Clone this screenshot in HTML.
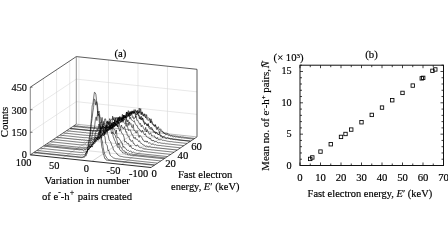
<!DOCTYPE html>
<html><head><meta charset="utf-8"><title>Figure</title>
<style>
html,body{margin:0;padding:0;background:#fff;}
body{width:448px;height:252px;overflow:hidden;}
svg{display:block;}
svg text{font-family:"Liberation Serif","Times New Roman",serif;fill:#000;stroke:#000;stroke-width:0.17px;}
</style></head><body>
<svg width="448" height="252" viewBox="0 0 448 252">
<rect width="448" height="252" fill="#fff"/>
<line x1="78.96" y1="124.48" x2="78.96" y2="56.88" stroke="#d4d4d4" stroke-width="0.55" />
<line x1="108.47" y1="127.58" x2="108.47" y2="59.98" stroke="#d4d4d4" stroke-width="0.55" />
<line x1="137.98" y1="130.69" x2="137.98" y2="63.09" stroke="#d4d4d4" stroke-width="0.55" />
<line x1="167.49" y1="133.79" x2="167.49" y2="66.19" stroke="#d4d4d4" stroke-width="0.55" />
<line x1="76.30" y1="101.67" x2="197.00" y2="114.37" stroke="#d4d4d4" stroke-width="0.55" />
<line x1="76.30" y1="79.13" x2="197.00" y2="91.83" stroke="#d4d4d4" stroke-width="0.55" />
<line x1="43.44" y1="146.06" x2="43.44" y2="78.46" stroke="#d4d4d4" stroke-width="0.55" />
<line x1="56.59" y1="137.31" x2="56.59" y2="69.71" stroke="#d4d4d4" stroke-width="0.55" />
<line x1="69.73" y1="128.57" x2="69.73" y2="60.97" stroke="#d4d4d4" stroke-width="0.55" />
<line x1="30.30" y1="132.27" x2="76.30" y2="101.67" stroke="#d4d4d4" stroke-width="0.55" />
<line x1="30.30" y1="109.73" x2="76.30" y2="79.13" stroke="#d4d4d4" stroke-width="0.55" />
<line x1="32.96" y1="155.08" x2="78.96" y2="124.48" stroke="#b0b0b0" stroke-width="0.55" />
<line x1="62.47" y1="158.18" x2="108.47" y2="127.58" stroke="#b0b0b0" stroke-width="0.55" />
<line x1="91.98" y1="161.29" x2="137.98" y2="130.69" stroke="#b0b0b0" stroke-width="0.55" />
<line x1="121.49" y1="164.39" x2="167.49" y2="133.79" stroke="#b0b0b0" stroke-width="0.55" />
<line x1="43.44" y1="146.06" x2="164.14" y2="158.76" stroke="#c4c4c4" stroke-width="0.55" />
<line x1="56.59" y1="137.31" x2="177.29" y2="150.01" stroke="#c4c4c4" stroke-width="0.55" />
<line x1="69.73" y1="128.57" x2="190.43" y2="141.27" stroke="#c4c4c4" stroke-width="0.55" />
<line x1="30.30" y1="154.80" x2="151.00" y2="167.50" stroke="#222" stroke-width="0.95" />
<line x1="151.00" y1="167.50" x2="197.00" y2="136.90" stroke="#333" stroke-width="0.8" />
<line x1="30.30" y1="154.80" x2="30.30" y2="87.20" stroke="#555" stroke-width="0.7" />
<line x1="30.30" y1="87.20" x2="76.30" y2="56.60" stroke="#333" stroke-width="0.8" />
<line x1="76.30" y1="56.60" x2="197.00" y2="69.30" stroke="#333" stroke-width="0.8" />
<line x1="197.00" y1="69.30" x2="197.00" y2="136.90" stroke="#333" stroke-width="0.8" />
<line x1="76.30" y1="124.20" x2="76.30" y2="56.60" stroke="#666" stroke-width="0.7" />
<line x1="30.30" y1="154.80" x2="76.30" y2="124.20" stroke="#333" stroke-width="0.75" />
<line x1="76.30" y1="124.20" x2="197.00" y2="136.90" stroke="#888" stroke-width="0.6" />
<line x1="30.30" y1="154.80" x2="32.50" y2="154.80" stroke="#333" stroke-width="0.7" />
<line x1="30.30" y1="132.27" x2="32.50" y2="132.27" stroke="#333" stroke-width="0.7" />
<line x1="30.30" y1="109.73" x2="32.50" y2="109.73" stroke="#333" stroke-width="0.7" />
<line x1="30.30" y1="87.20" x2="32.50" y2="87.20" stroke="#333" stroke-width="0.7" />
<polyline fill="none" stroke="#000" stroke-width="0.55" stroke-linejoin="round" points="74.30,125.76 75.03,125.83 75.77,125.91 76.51,125.98 77.25,126.07 77.98,126.15 78.72,126.22 79.46,126.29 80.20,126.33 80.94,126.44 81.67,126.54 82.41,126.58 83.15,126.69 83.89,126.77 84.62,126.73 85.36,126.90 86.10,126.95 86.84,127.03 87.58,127.02 88.31,127.19 89.05,127.18 89.79,127.39 90.53,127.47 91.26,127.34 92.00,127.38 92.74,127.54 93.48,127.63 94.22,127.70 94.95,127.88 95.69,127.56 96.43,127.74 97.17,127.80 97.90,127.85 98.64,127.71 99.38,127.85 100.12,127.78 100.86,128.32 101.59,127.81 102.33,127.20 103.07,128.10 103.81,127.91 104.54,127.42 105.28,127.29 106.02,127.32 106.76,128.31 107.49,127.08 108.23,127.86 108.97,127.50 109.71,126.45 110.45,126.77 111.18,125.74 111.92,123.68 112.66,125.11 113.40,124.78 114.13,125.78 114.87,125.19 115.61,125.19 116.35,124.26 117.09,124.38 117.82,123.46 118.56,122.46 119.30,122.83 120.04,122.80 120.77,122.20 121.51,119.35 122.25,119.23 122.99,117.30 123.73,116.61 124.46,117.93 125.20,115.84 125.94,118.37 126.68,112.11 127.41,113.15 128.15,114.81 128.89,115.82 129.63,112.81 130.37,116.10 131.10,113.87 131.84,110.88 132.58,111.71 133.32,112.42 134.05,109.66 134.79,113.01 135.53,110.56 136.27,111.91 137.01,112.55 137.74,110.29 138.48,113.03 139.22,108.07 139.96,112.77 140.69,108.55 141.43,114.35 142.17,111.83 142.91,115.43 143.65,116.18 144.38,114.22 145.12,113.99 145.86,117.84 146.60,114.57 147.33,118.42 148.07,117.71 148.81,118.10 149.55,118.57 150.29,122.78 151.02,118.75 151.76,121.02 152.50,123.11 153.24,124.62 153.97,126.16 154.71,126.43 155.45,124.91 156.19,126.61 156.93,128.12 157.66,128.11 158.40,126.67 159.14,129.12 159.88,129.91 160.61,128.77 161.35,130.08 162.09,130.91 162.83,131.86 163.57,132.94 164.30,133.04 165.04,132.95 165.78,133.14 166.52,133.14 167.25,133.37 167.99,133.84 168.73,134.12 169.47,134.92 170.21,135.60 170.94,135.13 171.68,135.48 172.42,135.55 173.16,135.59 173.89,136.04 174.63,136.13 175.37,136.00 176.11,136.08 176.85,136.38 177.58,136.27 178.32,136.52 179.06,136.77 179.80,136.70 180.53,136.54 181.27,136.99 182.01,136.86 182.75,136.94 183.49,137.03 184.22,137.33 184.96,137.19 185.70,137.44 186.44,137.55 187.17,137.63 187.91,137.66 188.65,137.77 189.39,137.87 190.13,137.89 190.86,138.03 191.60,138.10 192.34,138.15 193.08,138.24 193.81,138.31 194.55,138.41"/>
<polyline fill="none" stroke="#000" stroke-width="0.55" stroke-linejoin="round" points="73.31,126.41 74.05,126.49 74.78,126.56 75.52,126.65 76.26,126.73 77.00,126.80 77.74,126.88 78.47,126.96 79.21,127.04 79.95,127.12 80.69,127.17 81.42,127.27 82.16,127.33 82.90,127.43 83.64,127.50 84.38,127.58 85.11,127.64 85.85,127.74 86.59,127.74 87.33,127.87 88.06,127.93 88.80,128.01 89.54,128.01 90.28,128.19 91.02,128.09 91.75,128.22 92.49,128.31 93.23,128.38 93.97,128.36 94.70,128.33 95.44,128.37 96.18,128.51 96.92,128.43 97.66,128.61 98.39,128.35 99.13,128.68 99.87,129.21 100.61,128.26 101.34,128.61 102.08,129.03 102.82,128.64 103.56,128.86 104.30,127.52 105.03,128.10 105.77,128.99 106.51,127.80 107.25,128.15 107.98,126.62 108.72,128.20 109.46,128.80 110.20,127.01 110.94,127.03 111.67,126.79 112.41,127.87 113.15,125.40 113.89,123.87 114.62,126.72 115.36,123.34 116.10,124.58 116.84,121.00 117.58,122.48 118.31,122.62 119.05,120.51 119.79,120.58 120.53,121.37 121.26,119.06 122.00,120.05 122.74,121.21 123.48,115.18 124.22,117.96 124.95,117.74 125.69,115.69 126.43,118.06 127.17,117.20 127.90,115.30 128.64,114.84 129.38,113.38 130.12,111.15 130.86,113.49 131.59,111.48 132.33,110.99 133.07,113.74 133.81,111.24 134.54,113.23 135.28,109.59 136.02,110.70 136.76,111.57 137.50,114.15 138.23,111.75 138.97,113.60 139.71,111.33 140.45,113.18 141.18,114.84 141.92,112.34 142.66,113.26 143.40,116.08 144.14,113.80 144.87,116.88 145.61,117.60 146.35,117.65 147.09,119.75 147.82,120.03 148.56,120.39 149.30,118.77 150.04,119.66 150.78,122.88 151.51,121.22 152.25,124.15 152.99,124.40 153.73,124.57 154.46,126.00 155.20,124.40 155.94,127.47 156.68,129.60 157.42,127.75 158.15,130.00 158.89,130.47 159.63,133.27 160.37,130.45 161.10,131.12 161.84,131.63 162.58,131.97 163.32,131.94 164.06,133.45 164.79,133.23 165.53,134.52 166.27,134.60 167.01,134.19 167.74,134.79 168.48,135.78 169.22,135.30 169.96,135.73 170.70,136.14 171.43,135.90 172.17,136.33 172.91,136.81 173.65,136.81 174.38,136.24 175.12,137.13 175.86,136.88 176.60,136.93 177.34,137.05 178.07,137.44 178.81,137.42 179.55,137.46 180.29,137.47 181.02,137.74 181.76,137.83 182.50,137.75 183.24,137.84 183.98,137.99 184.71,138.14 185.45,138.16 186.19,138.27 186.93,138.31 187.66,138.45 188.40,138.51 189.14,138.60 189.88,138.68 190.62,138.75 191.35,138.83 192.09,138.91 192.83,138.98 193.57,139.07"/>
<polyline fill="none" stroke="#000" stroke-width="0.55" stroke-linejoin="round" points="70.35,128.38 71.09,128.45 71.83,128.53 72.57,128.62 73.30,128.69 74.04,128.77 74.78,128.84 75.52,128.93 76.25,129.00 76.99,129.08 77.73,129.16 78.47,129.23 79.21,129.31 79.94,129.39 80.68,129.47 81.42,129.55 82.16,129.61 82.89,129.70 83.63,129.76 84.37,129.78 85.11,129.90 85.85,130.01 86.58,130.07 87.32,130.14 88.06,130.24 88.80,130.32 89.53,130.40 90.27,130.25 91.01,130.45 91.75,130.37 92.49,130.60 93.22,130.59 93.96,130.68 94.70,130.59 95.44,130.53 96.17,130.68 96.91,130.92 97.65,130.97 98.39,130.25 99.13,130.81 99.86,130.79 100.60,130.10 101.34,130.15 102.08,130.27 102.81,130.59 103.55,129.13 104.29,129.94 105.03,129.67 105.77,129.89 106.50,130.46 107.24,130.21 107.98,128.77 108.72,128.46 109.45,128.60 110.19,129.02 110.93,128.90 111.67,127.52 112.41,128.15 113.14,125.37 113.88,124.55 114.62,122.13 115.36,123.63 116.09,124.71 116.83,124.45 117.57,127.10 118.31,122.86 119.05,121.65 119.78,119.39 120.52,119.18 121.26,118.51 122.00,118.37 122.73,117.01 123.47,115.10 124.21,118.48 124.95,116.93 125.69,117.94 126.42,112.35 127.16,112.39 127.90,112.89 128.64,115.95 129.37,113.21 130.11,113.70 130.85,112.95 131.59,113.32 132.33,111.99 133.06,113.68 133.80,111.50 134.54,112.79 135.28,113.99 136.01,113.97 136.75,114.93 137.49,113.15 138.23,115.56 138.97,115.13 139.70,116.92 140.44,119.40 141.18,116.10 141.92,120.05 142.65,118.01 143.39,119.23 144.13,123.22 144.87,122.93 145.61,123.10 146.34,124.35 147.08,125.65 147.82,123.88 148.56,125.99 149.29,126.02 150.03,127.80 150.77,127.70 151.51,129.62 152.25,129.54 152.98,129.61 153.72,130.82 154.46,131.92 155.20,133.05 155.93,132.52 156.67,132.92 157.41,133.89 158.15,134.72 158.89,134.24 159.62,133.42 160.36,135.59 161.10,135.57 161.84,135.89 162.57,137.69 163.31,136.63 164.05,137.26 164.79,136.62 165.53,137.51 166.26,137.90 167.00,137.89 167.74,137.95 168.48,138.33 169.21,138.34 169.95,138.80 170.69,138.66 171.43,138.58 172.17,138.48 172.90,138.85 173.64,139.04 174.38,139.02 175.12,139.15 175.85,139.19 176.59,139.36 177.33,139.59 178.07,139.64 178.81,139.74 179.54,139.81 180.28,139.91 181.02,140.03 181.76,140.11 182.49,140.18 183.23,140.26 183.97,140.33 184.71,140.41 185.45,140.49 186.18,140.55 186.92,140.62 187.66,140.72 188.40,140.77 189.13,140.85 189.87,140.96 190.61,141.02"/>
<polyline fill="none" stroke="#000" stroke-width="0.55" stroke-linejoin="round" points="70.02,128.60 70.76,128.68 71.50,128.76 72.24,128.83 72.97,128.91 73.71,128.98 74.45,129.07 75.19,129.13 75.93,129.22 76.66,129.30 77.40,129.36 78.14,129.44 78.88,129.53 79.61,129.61 80.35,129.69 81.09,129.76 81.83,129.79 82.57,129.92 83.30,129.97 84.04,130.03 84.78,130.10 85.52,130.18 86.25,130.17 86.99,130.31 87.73,130.34 88.47,130.43 89.21,130.36 89.94,130.70 90.68,130.51 91.42,130.76 92.16,130.82 92.89,130.99 93.63,131.09 94.37,130.98 95.11,131.09 95.85,130.85 96.58,131.35 97.32,130.59 98.06,130.90 98.80,131.04 99.53,131.17 100.27,131.17 101.01,131.27 101.75,130.97 102.49,130.64 103.22,130.61 103.96,131.12 104.70,130.37 105.44,130.56 106.17,129.72 106.91,128.35 107.65,128.87 108.39,129.24 109.13,129.94 109.86,129.47 110.60,129.37 111.34,126.82 112.08,127.75 112.81,126.46 113.55,126.65 114.29,125.35 115.03,123.29 115.77,125.07 116.50,124.05 117.24,124.01 117.98,121.18 118.72,123.03 119.45,122.54 120.19,122.26 120.93,121.66 121.67,118.20 122.41,114.27 123.14,119.16 123.88,115.43 124.62,115.95 125.36,117.64 126.09,115.75 126.83,115.20 127.57,115.58 128.31,110.59 129.05,117.08 129.78,112.75 130.52,112.65 131.26,114.19 132.00,112.82 132.73,111.52 133.47,112.94 134.21,112.63 134.95,112.38 135.69,117.60 136.42,111.68 137.16,110.73 137.90,113.55 138.64,114.08 139.37,118.85 140.11,117.31 140.85,119.15 141.59,119.50 142.33,117.78 143.06,121.37 143.80,121.13 144.54,124.60 145.28,122.84 146.01,123.32 146.75,125.25 147.49,126.08 148.23,123.54 148.97,128.26 149.70,128.81 150.44,129.25 151.18,127.75 151.92,127.57 152.65,130.15 153.39,131.84 154.13,132.17 154.87,131.43 155.61,133.70 156.34,132.31 157.08,132.90 157.82,134.39 158.56,134.44 159.29,134.81 160.03,134.73 160.77,136.62 161.51,135.72 162.25,136.84 162.98,137.29 163.72,137.15 164.46,137.52 165.20,138.04 165.93,138.43 166.67,138.37 167.41,137.80 168.15,137.85 168.89,138.39 169.62,138.42 170.36,138.95 171.10,138.98 171.84,139.03 172.57,139.38 173.31,139.46 174.05,139.40 174.79,139.55 175.53,139.70 176.26,139.66 177.00,139.82 177.74,139.79 178.48,139.97 179.21,140.08 179.95,140.13 180.69,140.23 181.43,140.32 182.17,140.40 182.90,140.44 183.64,140.52 184.38,140.58 185.12,140.71 185.85,140.79 186.59,140.87 187.33,140.94 188.07,141.02 188.81,141.10 189.54,141.17 190.28,141.25"/>
<polyline fill="none" stroke="#000" stroke-width="0.55" stroke-linejoin="round" points="66.74,130.79 67.48,130.87 68.21,130.94 68.95,131.02 69.69,131.09 70.43,131.18 71.16,131.25 71.90,131.33 72.64,131.40 73.38,131.49 74.12,131.56 74.85,131.64 75.59,131.69 76.33,131.78 77.07,131.87 77.80,131.95 78.54,132.01 79.28,132.09 80.02,132.12 80.76,132.20 81.49,132.34 82.23,132.41 82.97,132.50 83.71,132.54 84.44,132.61 85.18,132.49 85.92,132.75 86.66,132.88 87.40,132.96 88.13,132.94 88.87,133.12 89.61,133.19 90.35,133.18 91.08,133.11 91.82,133.24 92.56,133.42 93.30,133.10 94.04,133.42 94.77,133.43 95.51,133.68 96.25,133.52 96.99,133.05 97.72,133.79 98.46,133.19 99.20,132.79 99.94,133.15 100.68,132.76 101.41,133.29 102.15,131.85 102.89,131.73 103.63,132.00 104.36,133.04 105.10,132.33 105.84,130.56 106.58,129.59 107.32,130.30 108.05,129.03 108.79,130.21 109.53,129.34 110.27,128.63 111.00,127.62 111.74,129.15 112.48,125.76 113.22,124.60 113.96,126.93 114.69,126.55 115.43,123.62 116.17,124.26 116.91,125.99 117.64,120.69 118.38,120.91 119.12,121.16 119.86,116.37 120.60,118.81 121.33,119.62 122.07,117.59 122.81,118.97 123.55,117.99 124.28,115.52 125.02,116.78 125.76,116.26 126.50,112.15 127.24,113.41 127.97,113.39 128.71,113.84 129.45,113.96 130.19,112.29 130.92,115.20 131.66,112.06 132.40,117.52 133.14,116.68 133.88,119.18 134.61,117.89 135.35,117.01 136.09,116.10 136.83,120.43 137.56,120.08 138.30,121.48 139.04,122.90 139.78,124.43 140.52,123.38 141.25,126.90 141.99,125.10 142.73,126.12 143.47,127.91 144.20,129.21 144.94,130.48 145.68,127.36 146.42,131.95 147.16,129.48 147.89,131.31 148.63,133.03 149.37,134.46 150.11,133.05 150.84,133.12 151.58,135.97 152.32,135.97 153.06,135.48 153.80,136.49 154.53,135.86 155.27,137.93 156.01,137.64 156.75,138.98 157.48,137.56 158.22,139.27 158.96,140.17 159.70,139.50 160.44,139.73 161.17,139.22 161.91,140.20 162.65,140.28 163.39,140.28 164.12,140.19 164.86,140.76 165.60,140.66 166.34,140.91 167.08,141.18 167.81,141.23 168.55,141.35 169.29,141.58 170.03,141.40 170.76,141.73 171.50,141.62 172.24,141.75 172.98,141.93 173.72,142.04 174.45,142.11 175.19,142.15 175.93,142.22 176.67,142.33 177.40,142.38 178.14,142.51 178.88,142.57 179.62,142.67 180.36,142.72 181.09,142.81 181.83,142.90 182.57,142.95 183.31,143.04 184.04,143.13 184.78,143.21 185.52,143.29 186.26,143.35 187.00,143.42"/>
<polyline fill="none" stroke="#000" stroke-width="0.55" stroke-linejoin="round" points="63.45,132.97 64.19,133.05 64.93,133.13 65.67,133.20 66.40,133.28 67.14,133.36 67.88,133.44 68.62,133.51 69.35,133.59 70.09,133.67 70.83,133.74 71.57,133.82 72.31,133.90 73.04,133.96 73.78,134.05 74.52,134.14 75.26,134.20 75.99,134.29 76.73,134.34 77.47,134.41 78.21,134.53 78.95,134.60 79.68,134.66 80.42,134.75 81.16,134.84 81.90,134.86 82.63,134.99 83.37,135.07 84.11,135.14 84.85,135.20 85.59,135.21 86.32,135.38 87.06,135.29 87.80,135.44 88.54,135.56 89.27,135.69 90.01,135.77 90.75,135.52 91.49,135.82 92.23,135.61 92.96,135.36 93.70,135.33 94.44,135.13 95.18,135.67 95.91,135.91 96.65,135.04 97.39,135.22 98.13,134.72 98.87,135.09 99.60,134.29 100.34,134.25 101.08,134.06 101.82,133.91 102.55,133.66 103.29,133.43 104.03,133.05 104.77,132.00 105.51,132.81 106.24,130.28 106.98,131.44 107.72,129.76 108.46,130.25 109.19,129.78 109.93,126.46 110.67,128.49 111.41,128.99 112.15,127.56 112.88,126.27 113.62,122.01 114.36,123.95 115.10,122.06 115.83,124.22 116.57,121.35 117.31,120.07 118.05,117.46 118.79,120.94 119.52,118.09 120.26,118.03 121.00,119.85 121.74,117.63 122.47,117.70 123.21,121.18 123.95,115.60 124.69,115.58 125.43,117.35 126.16,119.08 126.90,113.98 127.64,116.47 128.38,115.41 129.11,115.11 129.85,119.11 130.59,117.27 131.33,119.78 132.07,120.16 132.80,120.95 133.54,121.61 134.28,120.63 135.02,123.15 135.75,124.50 136.49,125.61 137.23,125.63 137.97,128.37 138.71,128.74 139.44,129.05 140.18,130.64 140.92,130.96 141.66,132.43 142.39,130.26 143.13,131.92 143.87,133.69 144.61,134.96 145.35,133.55 146.08,136.00 146.82,137.00 147.56,137.27 148.30,137.84 149.03,137.57 149.77,139.07 150.51,138.18 151.25,140.42 151.99,139.89 152.72,141.13 153.46,140.06 154.20,141.36 154.94,141.50 155.67,141.36 156.41,141.50 157.15,142.50 157.89,142.43 158.63,142.87 159.36,142.62 160.10,142.82 160.84,143.00 161.58,143.19 162.31,143.24 163.05,143.41 163.79,143.32 164.53,143.31 165.27,143.69 166.00,143.70 166.74,143.82 167.48,143.83 168.22,144.00 168.95,144.05 169.69,144.15 170.43,144.17 171.17,144.29 171.91,144.38 172.64,144.44 173.38,144.54 174.12,144.62 174.86,144.68 175.59,144.76 176.33,144.85 177.07,144.91 177.81,144.99 178.55,145.08 179.28,145.16 180.02,145.22 180.76,145.30 181.50,145.39 182.23,145.47 182.97,145.55 183.71,145.63"/>
<polyline fill="none" stroke="#000" stroke-width="0.55" stroke-linejoin="round" points="60.17,135.16 60.90,135.24 61.64,135.31 62.38,135.39 63.12,135.47 63.86,135.55 64.59,135.63 65.33,135.70 66.07,135.78 66.81,135.86 67.54,135.93 68.28,136.01 69.02,136.08 69.76,136.17 70.50,136.24 71.23,136.32 71.97,136.40 72.71,136.48 73.45,136.56 74.18,136.63 74.92,136.69 75.66,136.79 76.40,136.87 77.14,136.95 77.87,137.02 78.61,137.07 79.35,137.18 80.09,137.26 80.82,137.30 81.56,137.37 82.30,137.48 83.04,137.57 83.78,137.64 84.51,137.66 85.25,137.58 85.99,137.88 86.73,137.60 87.46,137.73 88.20,137.98 88.94,137.78 89.68,138.26 90.42,138.34 91.15,138.31 91.89,138.08 92.63,138.03 93.37,138.06 94.10,137.78 94.84,138.59 95.58,137.41 96.32,138.15 97.06,137.65 97.79,137.34 98.53,137.57 99.27,137.48 100.01,136.99 100.74,135.96 101.48,135.11 102.22,134.66 102.96,135.51 103.70,134.84 104.43,134.44 105.17,132.46 105.91,134.45 106.65,130.16 107.38,131.39 108.12,131.01 108.86,128.80 109.60,127.02 110.34,127.08 111.07,125.18 111.81,125.63 112.55,123.08 113.29,122.16 114.02,123.46 114.76,120.11 115.50,121.48 116.24,120.90 116.98,122.04 117.71,120.35 118.45,117.93 119.19,121.33 119.93,117.39 120.66,117.71 121.40,117.70 122.14,122.33 122.88,118.45 123.62,117.21 124.35,120.12 125.09,118.90 125.83,123.91 126.57,118.86 127.30,121.91 128.04,119.90 128.78,125.43 129.52,121.89 130.26,124.36 130.99,123.59 131.73,127.35 132.47,127.84 133.21,124.53 133.94,130.12 134.68,130.92 135.42,131.31 136.16,133.25 136.90,131.41 137.63,131.77 138.37,135.54 139.11,137.48 139.85,135.22 140.58,136.12 141.32,137.18 142.06,137.62 142.80,140.01 143.54,140.02 144.27,141.46 145.01,141.93 145.75,140.80 146.49,142.27 147.22,140.99 147.96,142.58 148.70,143.26 149.44,142.90 150.18,142.78 150.91,143.58 151.65,144.41 152.39,144.08 153.13,143.98 153.86,144.68 154.60,144.90 155.34,144.63 156.08,144.96 156.82,145.31 157.55,145.29 158.29,145.45 159.03,145.41 159.77,145.53 160.50,145.52 161.24,145.67 161.98,145.87 162.72,145.88 163.46,145.94 164.19,146.06 164.93,146.11 165.67,146.26 166.41,146.34 167.14,146.37 167.88,146.49 168.62,146.57 169.36,146.62 170.10,146.73 170.83,146.80 171.57,146.88 172.31,146.96 173.05,147.04 173.78,147.11 174.52,147.19 175.26,147.27 176.00,147.34 176.73,147.42 177.47,147.50 178.21,147.58 178.95,147.66 179.69,147.74 180.42,147.81"/>
<polyline fill="none" stroke="#000" stroke-width="0.55" stroke-linejoin="round" points="56.88,137.35 57.62,137.42 58.36,137.50 59.09,137.58 59.83,137.66 60.57,137.73 61.31,137.81 62.05,137.89 62.78,137.97 63.52,138.04 64.26,138.12 65.00,138.20 65.73,138.27 66.47,138.35 67.21,138.43 67.95,138.51 68.69,138.59 69.42,138.67 70.16,138.74 70.90,138.82 71.64,138.90 72.37,138.96 73.11,139.05 73.85,139.13 74.59,139.21 75.33,139.24 76.06,139.34 76.80,139.37 77.54,139.48 78.28,139.52 79.01,139.67 79.75,139.69 80.49,139.62 81.23,139.91 81.97,139.84 82.70,139.84 83.44,140.02 84.18,140.03 84.92,140.00 85.65,140.32 86.39,140.19 87.13,140.46 87.87,140.46 88.61,140.47 89.34,140.36 90.08,140.26 90.82,140.13 91.56,140.71 92.29,139.39 93.03,139.56 93.77,139.58 94.51,139.93 95.25,139.60 95.98,139.01 96.72,138.79 97.46,139.87 98.20,137.84 98.93,135.71 99.67,139.03 100.41,136.12 101.15,136.08 101.89,135.93 102.62,133.70 103.36,135.74 104.10,133.47 104.84,131.05 105.57,132.25 106.31,131.68 107.05,130.04 107.79,129.92 108.53,125.99 109.26,128.81 110.00,125.05 110.74,127.63 111.48,123.52 112.21,124.00 112.95,127.66 113.69,122.32 114.43,123.65 115.17,121.94 115.90,117.70 116.64,122.42 117.38,122.07 118.12,117.06 118.85,119.61 119.59,116.92 120.33,119.51 121.07,122.17 121.81,121.02 122.54,119.10 123.28,120.31 124.02,122.81 124.76,123.54 125.49,124.72 126.23,126.48 126.97,123.19 127.71,127.51 128.45,130.42 129.18,130.43 129.92,129.70 130.66,130.95 131.40,133.16 132.13,134.92 132.87,135.03 133.61,138.10 134.35,138.53 135.08,137.05 135.82,139.29 136.56,139.24 137.30,139.23 138.04,140.51 138.77,141.71 139.51,140.70 140.25,142.41 140.99,143.63 141.72,143.41 142.46,144.05 143.20,145.11 143.94,144.97 144.68,145.39 145.41,146.40 146.15,145.91 146.89,146.17 147.63,146.41 148.36,146.93 149.10,146.72 149.84,146.79 150.58,146.90 151.32,147.27 152.05,147.07 152.79,147.44 153.53,147.43 154.27,147.34 155.00,147.67 155.74,147.74 156.48,147.69 157.22,147.90 157.96,147.97 158.69,148.02 159.43,148.07 160.17,148.21 160.91,148.29 161.64,148.37 162.38,148.45 163.12,148.52 163.86,148.60 164.60,148.67 165.33,148.76 166.07,148.83 166.81,148.91 167.55,148.99 168.28,149.07 169.02,149.13 169.76,149.22 170.50,149.30 171.24,149.38 171.97,149.46 172.71,149.53 173.45,149.61 174.19,149.69 174.92,149.77 175.66,149.84 176.40,149.92 177.14,150.00"/>
<polyline fill="none" stroke="#000" stroke-width="0.55" stroke-linejoin="round" points="53.60,139.53 54.33,139.61 55.07,139.69 55.81,139.76 56.55,139.84 57.28,139.92 58.02,140.00 58.76,140.07 59.50,140.15 60.24,140.23 60.97,140.31 61.71,140.38 62.45,140.46 63.19,140.54 63.92,140.62 64.66,140.70 65.40,140.77 66.14,140.85 66.88,140.92 67.61,141.00 68.35,141.08 69.09,141.16 69.83,141.24 70.56,141.30 71.30,141.39 72.04,141.47 72.78,141.54 73.52,141.61 74.25,141.69 74.99,141.77 75.73,141.86 76.47,141.94 77.20,142.00 77.94,142.09 78.68,142.17 79.42,142.25 80.16,142.32 80.89,142.40 81.63,142.48 82.37,142.56 83.11,142.51 83.84,142.52 84.58,142.30 85.32,142.87 86.06,142.81 86.79,142.48 87.53,142.73 88.27,142.75 89.01,142.08 89.75,142.66 90.48,142.90 91.22,142.88 91.96,142.03 92.70,141.84 93.43,142.50 94.17,142.06 94.91,140.80 95.65,140.37 96.39,140.81 97.12,139.33 97.86,138.78 98.60,140.29 99.34,138.27 100.07,136.78 100.81,137.04 101.55,138.03 102.29,134.96 103.03,132.67 103.76,130.49 104.50,134.68 105.24,126.67 105.98,131.17 106.71,126.85 107.45,125.28 108.19,124.62 108.93,125.03 109.67,126.43 110.40,122.38 111.14,124.07 111.88,126.83 112.62,116.14 113.35,119.74 114.09,117.27 114.83,122.42 115.57,117.75 116.31,117.63 117.04,117.97 117.78,121.44 118.52,124.24 119.26,122.93 119.99,127.48 120.73,127.37 121.47,125.06 122.21,128.02 122.95,127.68 123.68,128.75 124.42,126.67 125.16,128.98 125.90,132.30 126.63,131.72 127.37,135.74 128.11,136.29 128.85,135.85 129.59,139.57 130.32,139.45 131.06,141.53 131.80,140.94 132.54,140.38 133.27,143.39 134.01,143.28 134.75,144.83 135.49,145.58 136.23,146.13 136.96,144.93 137.70,144.95 138.44,146.43 139.18,147.38 139.91,147.07 140.65,147.79 141.39,147.63 142.13,148.05 142.87,148.27 143.60,148.38 144.34,148.84 145.08,148.94 145.82,149.23 146.55,149.20 147.29,149.39 148.03,149.37 148.77,149.55 149.51,149.54 150.24,149.60 150.98,149.78 151.72,149.86 152.46,149.93 153.19,149.95 153.93,150.00 154.67,150.12 155.41,150.24 156.15,150.27 156.88,150.40 157.62,150.44 158.36,150.55 159.10,150.63 159.83,150.67 160.57,150.77 161.31,150.86 162.05,150.94 162.79,151.02 163.52,151.10 164.26,151.18 165.00,151.25 165.74,151.33 166.47,151.41 167.21,151.48 167.95,151.56 168.69,151.64 169.43,151.72 170.16,151.80 170.90,151.87 171.64,151.95 172.38,152.03 173.11,152.11 173.85,152.18"/>
<polyline fill="none" stroke="#000" stroke-width="0.55" stroke-linejoin="round" points="50.31,141.72 51.05,141.79 51.78,141.87 52.52,141.95 53.26,142.03 54.00,142.10 54.74,142.18 55.47,142.26 56.21,142.34 56.95,142.42 57.69,142.49 58.42,142.57 59.16,142.65 59.90,142.73 60.64,142.80 61.38,142.88 62.11,142.96 62.85,143.04 63.59,143.11 64.33,143.19 65.06,143.27 65.80,143.35 66.54,143.42 67.28,143.50 68.02,143.58 68.75,143.66 69.49,143.74 70.23,143.81 70.97,143.87 71.70,143.97 72.44,144.05 73.18,144.12 73.92,144.20 74.66,144.28 75.39,144.35 76.13,144.42 76.87,144.50 77.61,144.59 78.34,144.65 79.08,144.74 79.82,144.82 80.56,144.81 81.30,144.82 82.03,144.83 82.77,145.06 83.51,144.87 84.25,144.83 84.98,144.82 85.72,144.72 86.46,145.07 87.20,145.04 87.94,144.64 88.67,145.33 89.41,144.59 90.15,144.74 90.89,144.46 91.62,144.97 92.36,144.22 93.10,143.30 93.84,142.19 94.58,141.53 95.31,141.77 96.05,141.20 96.79,141.08 97.53,139.02 98.26,138.81 99.00,136.83 99.74,134.31 100.48,135.43 101.22,136.30 101.95,134.28 102.69,134.01 103.43,132.45 104.17,127.17 104.90,127.73 105.64,129.62 106.38,124.67 107.12,122.50 107.86,124.60 108.59,124.42 109.33,123.12 110.07,121.38 110.81,120.32 111.54,119.04 112.28,118.96 113.02,119.19 113.76,119.19 114.50,121.10 115.23,126.07 115.97,124.15 116.71,124.25 117.45,126.63 118.18,125.44 118.92,128.98 119.66,131.25 120.40,128.65 121.14,131.36 121.87,133.48 122.61,133.85 123.35,135.08 124.09,137.42 124.82,142.21 125.56,141.14 126.30,141.99 127.04,143.57 127.78,143.34 128.51,143.36 129.25,145.68 129.99,146.92 130.73,145.25 131.46,147.62 132.20,148.62 132.94,148.22 133.68,148.56 134.42,149.48 135.15,149.16 135.89,149.97 136.63,150.35 137.37,150.21 138.10,150.26 138.84,150.80 139.58,150.74 140.32,150.97 141.06,150.61 141.79,151.30 142.53,151.13 143.27,151.42 144.01,151.52 144.74,151.54 145.48,151.63 146.22,151.70 146.96,151.85 147.70,151.96 148.43,152.04 149.17,152.09 149.91,152.17 150.65,152.24 151.38,152.34 152.12,152.41 152.86,152.48 153.60,152.58 154.34,152.66 155.07,152.74 155.81,152.82 156.55,152.89 157.29,152.97 158.02,153.05 158.76,153.13 159.50,153.20 160.24,153.28 160.98,153.36 161.71,153.44 162.45,153.52 163.19,153.59 163.93,153.67 164.66,153.75 165.40,153.83 166.14,153.90 166.88,153.98 167.62,154.06 168.35,154.14 169.09,154.21 169.83,154.29 170.57,154.37"/>
<polyline fill="none" stroke="#000" stroke-width="0.55" stroke-linejoin="round" points="47.02,143.90 47.76,143.98 48.50,144.06 49.24,144.14 49.97,144.21 50.71,144.29 51.45,144.37 52.19,144.45 52.93,144.52 53.66,144.60 54.40,144.68 55.14,144.76 55.88,144.83 56.61,144.91 57.35,144.99 58.09,145.07 58.83,145.14 59.57,145.22 60.30,145.30 61.04,145.38 61.78,145.45 62.52,145.53 63.25,145.61 63.99,145.69 64.73,145.77 65.47,145.84 66.21,145.92 66.94,146.00 67.68,146.08 68.42,146.15 69.16,146.23 69.89,146.31 70.63,146.38 71.37,146.46 72.11,146.54 72.85,146.62 73.58,146.69 74.32,146.77 75.06,146.85 75.80,146.93 76.53,147.01 77.27,147.09 78.01,147.03 78.75,147.24 79.49,147.20 80.22,147.40 80.96,147.33 81.70,147.46 82.44,147.45 83.17,147.36 83.91,147.08 84.65,147.40 85.39,147.37 86.13,147.65 86.86,147.02 87.60,147.19 88.34,146.52 89.08,146.67 89.81,145.37 90.55,147.18 91.29,145.71 92.03,144.32 92.77,144.63 93.50,144.33 94.24,143.07 94.98,143.32 95.72,140.76 96.45,136.90 97.19,137.14 97.93,138.80 98.67,137.21 99.41,135.18 100.14,131.57 100.88,133.05 101.62,131.46 102.36,127.33 103.09,125.98 103.83,127.03 104.57,127.37 105.31,127.29 106.05,124.83 106.78,127.33 107.52,120.85 108.26,123.47 109.00,121.19 109.73,118.58 110.47,120.48 111.21,125.85 111.95,122.65 112.69,123.15 113.42,128.03 114.16,129.70 114.90,129.56 115.64,133.66 116.37,129.96 117.11,137.90 117.85,137.32 118.59,137.58 119.33,139.03 120.06,139.98 120.80,141.26 121.54,143.15 122.28,142.91 123.01,147.40 123.75,146.29 124.49,147.83 125.23,147.95 125.97,148.64 126.70,150.05 127.44,150.41 128.18,150.11 128.92,150.81 129.65,151.65 130.39,150.90 131.13,151.17 131.87,152.66 132.61,152.35 133.34,152.02 134.08,152.61 134.82,152.88 135.56,153.09 136.29,153.25 137.03,153.31 137.77,153.44 138.51,153.41 139.25,153.60 139.98,153.68 140.72,153.76 141.46,153.83 142.20,153.92 142.93,153.99 143.67,154.04 144.41,154.14 145.15,154.22 145.89,154.30 146.62,154.38 147.36,154.46 148.10,154.54 148.84,154.61 149.57,154.69 150.31,154.76 151.05,154.85 151.79,154.93 152.53,155.00 153.26,155.08 154.00,155.16 154.74,155.24 155.48,155.31 156.21,155.39 156.95,155.47 157.69,155.55 158.43,155.62 159.17,155.70 159.90,155.78 160.64,155.86 161.38,155.93 162.12,156.01 162.85,156.09 163.59,156.17 164.33,156.25 165.07,156.32 165.81,156.40 166.54,156.48 167.28,156.56"/>
<polyline fill="none" stroke="#000" stroke-width="0.55" stroke-linejoin="round" points="45.05,145.21 45.79,145.29 46.53,145.37 47.27,145.45 48.00,145.52 48.74,145.60 49.48,145.68 50.22,145.76 50.95,145.83 51.69,145.91 52.43,145.99 53.17,146.07 53.91,146.15 54.64,146.22 55.38,146.30 56.12,146.38 56.86,146.46 57.59,146.53 58.33,146.61 59.07,146.69 59.81,146.77 60.55,146.84 61.28,146.92 62.02,147.00 62.76,147.08 63.50,147.15 64.23,147.23 64.97,147.31 65.71,147.39 66.45,147.47 67.19,147.54 67.92,147.62 68.66,147.70 69.40,147.78 70.14,147.84 70.87,147.93 71.61,147.99 72.35,148.09 73.09,148.14 73.83,148.24 74.56,148.32 75.30,148.30 76.04,148.43 76.78,148.55 77.51,148.61 78.25,148.65 78.99,148.63 79.73,148.84 80.47,148.94 81.20,148.92 81.94,148.91 82.68,148.91 83.42,148.63 84.15,148.82 84.89,148.60 85.63,149.11 86.37,148.29 87.11,147.54 87.84,147.83 88.58,147.75 89.32,147.42 90.06,145.86 90.79,147.16 91.53,145.91 92.27,144.65 93.01,143.47 93.75,143.64 94.48,141.73 95.22,141.19 95.96,139.38 96.70,138.31 97.43,138.30 98.17,135.13 98.91,132.11 99.65,133.59 100.39,130.83 101.12,127.71 101.86,129.55 102.60,125.92 103.34,127.27 104.07,121.95 104.81,118.80 105.55,118.88 106.29,123.30 107.03,121.33 107.76,122.91 108.50,123.49 109.24,121.34 109.98,128.12 110.71,124.61 111.45,128.14 112.19,126.94 112.93,130.82 113.67,134.00 114.40,134.11 115.14,135.14 115.88,137.95 116.62,138.98 117.35,141.95 118.09,145.40 118.83,143.15 119.57,144.74 120.31,146.53 121.04,147.69 121.78,147.86 122.52,149.91 123.26,150.80 123.99,151.09 124.73,150.88 125.47,152.72 126.21,151.91 126.95,153.05 127.68,153.49 128.42,152.98 129.16,153.61 129.90,154.08 130.63,154.02 131.37,153.93 132.11,154.04 132.85,154.40 133.59,154.40 134.32,154.48 135.06,154.68 135.80,154.71 136.54,154.82 137.27,154.92 138.01,155.00 138.75,155.06 139.49,155.15 140.23,155.23 140.96,155.31 141.70,155.37 142.44,155.46 143.18,155.53 143.91,155.61 144.65,155.69 145.39,155.76 146.13,155.85 146.87,155.92 147.60,156.00 148.34,156.08 149.08,156.16 149.82,156.24 150.55,156.31 151.29,156.39 152.03,156.47 152.77,156.55 153.51,156.63 154.24,156.70 154.98,156.78 155.72,156.86 156.46,156.94 157.19,157.01 157.93,157.09 158.67,157.17 159.41,157.25 160.15,157.32 160.88,157.40 161.62,157.48 162.36,157.56 163.10,157.63 163.83,157.71 164.57,157.79 165.31,157.87"/>
<polyline fill="none" stroke="#000" stroke-width="0.55" stroke-linejoin="round" points="43.74,146.09 44.48,146.17 45.21,146.24 45.95,146.32 46.69,146.40 47.43,146.48 48.16,146.55 48.90,146.63 49.64,146.71 50.38,146.79 51.12,146.86 51.85,146.94 52.59,147.02 53.33,147.10 54.07,147.17 54.80,147.25 55.54,147.33 56.28,147.41 57.02,147.49 57.76,147.56 58.49,147.64 59.23,147.72 59.97,147.80 60.71,147.87 61.44,147.95 62.18,148.03 62.92,148.11 63.66,148.18 64.40,148.26 65.13,148.34 65.87,148.41 66.61,148.49 67.35,148.57 68.08,148.65 68.82,148.73 69.56,148.80 70.30,148.88 71.04,148.96 71.77,149.04 72.51,149.07 73.25,149.17 73.99,149.27 74.72,149.32 75.46,149.34 76.20,149.50 76.94,149.58 77.68,149.55 78.41,149.66 79.15,149.69 79.89,149.87 80.63,149.60 81.36,149.62 82.10,149.81 82.84,149.76 83.58,150.28 84.32,149.65 85.05,149.80 85.79,149.45 86.53,149.13 87.27,149.33 88.00,149.75 88.74,148.22 89.48,148.43 90.22,147.58 90.96,147.11 91.69,146.08 92.43,147.08 93.17,142.42 93.91,142.21 94.64,139.78 95.38,137.07 96.12,138.13 96.86,139.27 97.60,136.31 98.33,135.22 99.07,132.42 99.81,129.78 100.55,132.19 101.28,126.37 102.02,128.83 102.76,124.21 103.50,124.27 104.24,124.18 104.97,123.44 105.71,124.47 106.45,124.95 107.19,127.77 107.92,125.23 108.66,122.59 109.40,123.74 110.14,126.61 110.88,129.47 111.61,133.71 112.35,131.89 113.09,136.25 113.83,138.09 114.56,140.19 115.30,141.36 116.04,143.66 116.78,144.73 117.52,147.21 118.25,147.68 118.99,146.37 119.73,149.53 120.47,150.55 121.20,150.79 121.94,151.39 122.68,153.01 123.42,153.00 124.16,152.92 124.89,153.57 125.63,153.93 126.37,153.77 127.11,154.61 127.84,154.61 128.58,154.88 129.32,154.69 130.06,155.17 130.80,155.24 131.53,155.31 132.27,155.31 133.01,155.41 133.75,155.46 134.48,155.64 135.22,155.68 135.96,155.79 136.70,155.87 137.44,155.93 138.17,156.02 138.91,156.10 139.65,156.18 140.39,156.26 141.12,156.34 141.86,156.41 142.60,156.49 143.34,156.56 144.08,156.65 144.81,156.72 145.55,156.80 146.29,156.88 147.03,156.96 147.76,157.03 148.50,157.11 149.24,157.19 149.98,157.27 150.72,157.34 151.45,157.42 152.19,157.50 152.93,157.58 153.67,157.65 154.40,157.73 155.14,157.81 155.88,157.89 156.62,157.97 157.36,158.04 158.09,158.12 158.83,158.20 159.57,158.28 160.31,158.35 161.04,158.43 161.78,158.51 162.52,158.59 163.26,158.66 164.00,158.74"/>
<polyline fill="none" stroke="#000" stroke-width="0.55" stroke-linejoin="round" points="40.45,148.27 41.19,148.35 41.93,148.43 42.67,148.51 43.40,148.58 44.14,148.66 44.88,148.74 45.62,148.82 46.35,148.89 47.09,148.97 47.83,149.05 48.57,149.13 49.31,149.21 50.04,149.28 50.78,149.36 51.52,149.44 52.26,149.52 52.99,149.59 53.73,149.67 54.47,149.75 55.21,149.83 55.95,149.90 56.68,149.98 57.42,150.06 58.16,150.14 58.90,150.21 59.63,150.29 60.37,150.37 61.11,150.45 61.85,150.53 62.59,150.60 63.32,150.68 64.06,150.76 64.80,150.84 65.54,150.91 66.27,150.99 67.01,151.07 67.75,151.15 68.49,151.22 69.23,151.30 69.96,151.38 70.70,151.46 71.44,151.53 72.18,151.61 72.91,151.69 73.65,151.77 74.39,151.84 75.13,151.92 75.87,151.99 76.60,152.06 77.34,152.14 78.08,152.23 78.82,152.29 79.55,152.39 80.29,152.39 81.03,152.47 81.77,152.37 82.51,152.63 83.24,152.24 83.98,152.15 84.72,152.09 85.46,151.99 86.19,151.20 86.93,151.99 87.67,150.20 88.41,149.62 89.15,148.72 89.88,147.57 90.62,147.38 91.36,145.61 92.10,142.96 92.83,141.41 93.57,139.77 94.31,140.37 95.05,135.02 95.79,131.70 96.52,129.75 97.26,129.10 98.00,130.76 98.74,124.01 99.47,124.85 100.21,128.93 100.95,121.93 101.69,125.74 102.43,125.43 103.16,124.50 103.90,121.31 104.64,126.14 105.38,126.43 106.11,125.41 106.85,127.93 107.59,133.40 108.33,135.93 109.07,139.88 109.80,141.15 110.54,141.66 111.28,143.79 112.02,146.05 112.75,146.79 113.49,150.16 114.23,150.77 114.97,151.28 115.71,152.42 116.44,152.99 117.18,154.12 117.92,155.05 118.66,155.21 119.39,156.09 120.13,156.54 120.87,156.14 121.61,156.51 122.35,156.61 123.08,156.97 123.82,156.99 124.56,157.11 125.30,157.20 126.03,157.28 126.77,157.35 127.51,157.38 128.25,157.49 128.99,157.59 129.72,157.66 130.46,157.73 131.20,157.82 131.94,157.90 132.67,157.97 133.41,158.05 134.15,158.13 134.89,158.21 135.63,158.29 136.36,158.37 137.10,158.44 137.84,158.52 138.58,158.60 139.31,158.68 140.05,158.75 140.79,158.83 141.53,158.91 142.27,158.99 143.00,159.06 143.74,159.14 144.48,159.22 145.22,159.30 145.95,159.37 146.69,159.45 147.43,159.53 148.17,159.61 148.91,159.69 149.64,159.76 150.38,159.84 151.12,159.92 151.86,160.00 152.59,160.07 153.33,160.15 154.07,160.23 154.81,160.31 155.55,160.38 156.28,160.46 157.02,160.54 157.76,160.62 158.50,160.69 159.23,160.77 159.97,160.85 160.71,160.93"/>
<polyline fill="none" stroke="#000" stroke-width="0.55" stroke-linejoin="round" points="37.17,150.46 37.90,150.54 38.64,150.61 39.38,150.69 40.12,150.77 40.86,150.85 41.59,150.93 42.33,151.00 43.07,151.08 43.81,151.16 44.54,151.24 45.28,151.31 46.02,151.39 46.76,151.47 47.50,151.55 48.23,151.62 48.97,151.70 49.71,151.78 50.45,151.86 51.18,151.93 51.92,152.01 52.66,152.09 53.40,152.17 54.14,152.25 54.87,152.32 55.61,152.40 56.35,152.48 57.09,152.56 57.82,152.63 58.56,152.71 59.30,152.79 60.04,152.87 60.78,152.94 61.51,153.02 62.25,153.10 62.99,153.18 63.73,153.25 64.46,153.33 65.20,153.41 65.94,153.49 66.68,153.56 67.42,153.64 68.15,153.72 68.89,153.80 69.63,153.88 70.37,153.95 71.10,154.03 71.84,154.10 72.58,154.18 73.32,154.26 74.06,154.34 74.79,154.42 75.53,154.50 76.27,154.57 77.01,154.64 77.74,154.73 78.48,154.70 79.22,154.74 79.96,154.76 80.70,154.97 81.43,154.81 82.17,154.89 82.91,154.86 83.65,154.69 84.38,154.82 85.12,154.57 85.86,152.77 86.60,152.54 87.34,151.13 88.07,148.96 88.81,150.03 89.55,147.00 90.29,143.32 91.02,140.12 91.76,138.19 92.50,132.29 93.24,130.21 93.98,129.63 94.71,125.75 95.45,118.72 96.19,116.83 96.93,120.62 97.66,111.22 98.40,112.59 99.14,111.04 99.88,116.54 100.62,118.22 101.35,122.72 102.09,117.40 102.83,126.98 103.57,127.05 104.30,135.19 105.04,137.31 105.78,143.65 106.52,144.69 107.26,145.67 107.99,150.77 108.73,150.33 109.47,152.79 110.21,155.23 110.94,155.86 111.68,156.64 112.42,157.07 113.16,157.74 113.90,158.17 114.63,158.28 115.37,158.63 116.11,158.77 116.85,158.75 117.58,158.77 118.32,159.00 119.06,159.05 119.80,159.15 120.54,159.23 121.27,159.28 122.01,159.39 122.75,159.44 123.49,159.54 124.22,159.62 124.96,159.70 125.70,159.78 126.44,159.85 127.18,159.93 127.91,160.01 128.65,160.09 129.39,160.16 130.13,160.24 130.86,160.32 131.60,160.40 132.34,160.47 133.08,160.55 133.82,160.63 134.55,160.71 135.29,160.78 136.03,160.86 136.77,160.94 137.50,161.02 138.24,161.09 138.98,161.17 139.72,161.25 140.46,161.33 141.19,161.41 141.93,161.48 142.67,161.56 143.41,161.64 144.14,161.72 144.88,161.79 145.62,161.87 146.36,161.95 147.10,162.03 147.83,162.10 148.57,162.18 149.31,162.26 150.05,162.34 150.78,162.41 151.52,162.49 152.26,162.57 153.00,162.65 153.73,162.72 154.47,162.80 155.21,162.88 155.95,162.96 156.69,163.04 157.42,163.11"/>
<polyline fill="none" stroke="#000" stroke-width="0.55" stroke-linejoin="round" points="34.54,152.21 35.28,152.29 36.01,152.36 36.75,152.44 37.49,152.52 38.23,152.60 38.96,152.67 39.70,152.75 40.44,152.83 41.18,152.91 41.92,152.98 42.65,153.06 43.39,153.14 44.13,153.22 44.87,153.29 45.60,153.37 46.34,153.45 47.08,153.53 47.82,153.61 48.56,153.68 49.29,153.76 50.03,153.84 50.77,153.92 51.51,153.99 52.24,154.07 52.98,154.15 53.72,154.23 54.46,154.30 55.20,154.38 55.93,154.46 56.67,154.54 57.41,154.61 58.15,154.69 58.88,154.77 59.62,154.85 60.36,154.93 61.10,155.00 61.84,155.08 62.57,155.16 63.31,155.24 64.05,155.31 64.79,155.39 65.52,155.47 66.26,155.55 67.00,155.62 67.74,155.70 68.48,155.78 69.21,155.86 69.95,155.93 70.69,156.01 71.43,156.09 72.16,156.17 72.90,156.24 73.64,156.32 74.38,156.40 75.12,156.48 75.85,156.56 76.59,156.63 77.33,156.71 78.07,156.77 78.80,156.86 79.54,156.90 80.28,157.02 81.02,157.09 81.76,157.17 82.49,157.15 83.23,156.76 83.97,156.80 84.71,155.84 85.44,154.98 86.18,152.41 86.92,153.40 87.66,148.64 88.40,146.45 89.13,142.20 89.87,139.74 90.61,132.33 91.35,123.46 92.08,118.82 92.82,112.13 93.56,107.57 94.30,99.01 95.04,99.60 95.77,105.17 96.51,101.60 97.25,108.11 97.99,115.92 98.72,113.88 99.46,115.59 100.20,125.42 100.94,134.37 101.68,139.66 102.41,141.44 103.15,147.37 103.89,151.04 104.63,153.85 105.36,155.79 106.10,156.77 106.84,158.01 107.58,158.88 108.32,159.73 109.05,159.63 109.79,160.07 110.53,159.99 111.27,160.28 112.00,160.34 112.74,160.43 113.48,160.51 114.22,160.56 114.96,160.65 115.69,160.75 116.43,160.82 117.17,160.90 117.91,160.98 118.64,161.06 119.38,161.14 120.12,161.21 120.86,161.29 121.60,161.37 122.33,161.45 123.07,161.52 123.81,161.60 124.55,161.68 125.28,161.76 126.02,161.83 126.76,161.91 127.50,161.99 128.24,162.07 128.97,162.14 129.71,162.22 130.45,162.30 131.19,162.38 131.92,162.46 132.66,162.53 133.40,162.61 134.14,162.69 134.88,162.77 135.61,162.84 136.35,162.92 137.09,163.00 137.83,163.08 138.56,163.15 139.30,163.23 140.04,163.31 140.78,163.39 141.52,163.46 142.25,163.54 142.99,163.62 143.73,163.70 144.47,163.77 145.20,163.85 145.94,163.93 146.68,164.01 147.42,164.09 148.16,164.16 148.89,164.24 149.63,164.32 150.37,164.40 151.11,164.47 151.84,164.55 152.58,164.63 153.32,164.71 154.06,164.78 154.80,164.86"/>
<polyline fill="none" stroke="#000" stroke-width="0.55" stroke-linejoin="round" points="33.88,152.65 34.62,152.72 35.36,152.80 36.09,152.88 36.83,152.96 37.57,153.03 38.31,153.11 39.05,153.19 39.78,153.27 40.52,153.34 41.26,153.42 42.00,153.50 42.73,153.58 43.47,153.65 44.21,153.73 44.95,153.81 45.69,153.89 46.42,153.97 47.16,154.04 47.90,154.12 48.64,154.20 49.37,154.28 50.11,154.35 50.85,154.43 51.59,154.51 52.33,154.59 53.06,154.66 53.80,154.74 54.54,154.82 55.28,154.90 56.01,154.97 56.75,155.05 57.49,155.13 58.23,155.21 58.97,155.28 59.70,155.36 60.44,155.44 61.18,155.52 61.92,155.60 62.65,155.67 63.39,155.75 64.13,155.83 64.87,155.91 65.61,155.98 66.34,156.06 67.08,156.14 67.82,156.22 68.56,156.29 69.29,156.37 70.03,156.45 70.77,156.53 71.51,156.60 72.25,156.68 72.98,156.76 73.72,156.84 74.46,156.91 75.20,156.99 75.93,157.07 76.67,157.14 77.41,157.23 78.15,157.30 78.89,157.38 79.62,157.44 80.36,157.54 81.10,157.61 81.84,157.60 82.57,157.37 83.31,157.11 84.05,157.58 84.79,156.95 85.53,155.27 86.26,155.74 87.00,152.47 87.74,149.05 88.48,142.97 89.21,138.28 89.95,133.65 90.69,126.48 91.43,118.41 92.17,105.83 92.90,104.08 93.64,98.06 94.38,92.36 95.12,92.62 95.85,94.24 96.59,100.84 97.33,103.34 98.07,111.78 98.81,115.68 99.54,125.14 100.28,134.15 101.02,139.56 101.76,146.65 102.49,149.24 103.23,153.74 103.97,155.62 104.71,158.46 105.45,158.59 106.18,160.04 106.92,160.33 107.66,160.24 108.40,160.49 109.13,160.49 109.87,160.48 110.61,160.72 111.35,160.80 112.08,160.87 112.82,160.95 113.56,161.03 114.30,161.11 115.04,161.18 115.77,161.26 116.51,161.34 117.25,161.42 117.99,161.49 118.72,161.57 119.46,161.65 120.20,161.73 120.94,161.81 121.68,161.88 122.41,161.96 123.15,162.04 123.89,162.12 124.63,162.19 125.36,162.27 126.10,162.35 126.84,162.43 127.58,162.50 128.32,162.58 129.05,162.66 129.79,162.74 130.53,162.81 131.27,162.89 132.00,162.97 132.74,163.05 133.48,163.13 134.22,163.20 134.96,163.28 135.69,163.36 136.43,163.44 137.17,163.51 137.91,163.59 138.64,163.67 139.38,163.75 140.12,163.82 140.86,163.90 141.60,163.98 142.33,164.06 143.07,164.13 143.81,164.21 144.55,164.29 145.28,164.37 146.02,164.44 146.76,164.52 147.50,164.60 148.24,164.68 148.97,164.76 149.71,164.83 150.45,164.91 151.19,164.99 151.92,165.07 152.66,165.14 153.40,165.22 154.14,165.30"/>
<rect x="300.0" y="65.2" width="143.5" height="100.3" fill="none" stroke="#111" stroke-width="1"/>
<line x1="300.00" y1="165.50" x2="300.00" y2="162.50" stroke="#111" stroke-width="0.8" />
<line x1="300.00" y1="65.20" x2="300.00" y2="68.20" stroke="#111" stroke-width="0.8" />
<line x1="310.25" y1="165.50" x2="310.25" y2="163.50" stroke="#111" stroke-width="0.8" />
<line x1="310.25" y1="65.20" x2="310.25" y2="67.20" stroke="#111" stroke-width="0.8" />
<line x1="320.50" y1="165.50" x2="320.50" y2="162.50" stroke="#111" stroke-width="0.8" />
<line x1="320.50" y1="65.20" x2="320.50" y2="68.20" stroke="#111" stroke-width="0.8" />
<line x1="330.75" y1="165.50" x2="330.75" y2="163.50" stroke="#111" stroke-width="0.8" />
<line x1="330.75" y1="65.20" x2="330.75" y2="67.20" stroke="#111" stroke-width="0.8" />
<line x1="341.00" y1="165.50" x2="341.00" y2="162.50" stroke="#111" stroke-width="0.8" />
<line x1="341.00" y1="65.20" x2="341.00" y2="68.20" stroke="#111" stroke-width="0.8" />
<line x1="351.25" y1="165.50" x2="351.25" y2="163.50" stroke="#111" stroke-width="0.8" />
<line x1="351.25" y1="65.20" x2="351.25" y2="67.20" stroke="#111" stroke-width="0.8" />
<line x1="361.50" y1="165.50" x2="361.50" y2="162.50" stroke="#111" stroke-width="0.8" />
<line x1="361.50" y1="65.20" x2="361.50" y2="68.20" stroke="#111" stroke-width="0.8" />
<line x1="371.75" y1="165.50" x2="371.75" y2="163.50" stroke="#111" stroke-width="0.8" />
<line x1="371.75" y1="65.20" x2="371.75" y2="67.20" stroke="#111" stroke-width="0.8" />
<line x1="382.00" y1="165.50" x2="382.00" y2="162.50" stroke="#111" stroke-width="0.8" />
<line x1="382.00" y1="65.20" x2="382.00" y2="68.20" stroke="#111" stroke-width="0.8" />
<line x1="392.25" y1="165.50" x2="392.25" y2="163.50" stroke="#111" stroke-width="0.8" />
<line x1="392.25" y1="65.20" x2="392.25" y2="67.20" stroke="#111" stroke-width="0.8" />
<line x1="402.50" y1="165.50" x2="402.50" y2="162.50" stroke="#111" stroke-width="0.8" />
<line x1="402.50" y1="65.20" x2="402.50" y2="68.20" stroke="#111" stroke-width="0.8" />
<line x1="412.75" y1="165.50" x2="412.75" y2="163.50" stroke="#111" stroke-width="0.8" />
<line x1="412.75" y1="65.20" x2="412.75" y2="67.20" stroke="#111" stroke-width="0.8" />
<line x1="423.00" y1="165.50" x2="423.00" y2="162.50" stroke="#111" stroke-width="0.8" />
<line x1="423.00" y1="65.20" x2="423.00" y2="68.20" stroke="#111" stroke-width="0.8" />
<line x1="433.25" y1="165.50" x2="433.25" y2="163.50" stroke="#111" stroke-width="0.8" />
<line x1="433.25" y1="65.20" x2="433.25" y2="67.20" stroke="#111" stroke-width="0.8" />
<line x1="443.50" y1="165.50" x2="443.50" y2="162.50" stroke="#111" stroke-width="0.8" />
<line x1="443.50" y1="65.20" x2="443.50" y2="68.20" stroke="#111" stroke-width="0.8" />
<line x1="300.00" y1="165.50" x2="303.00" y2="165.50" stroke="#111" stroke-width="0.8" />
<line x1="443.50" y1="165.50" x2="440.50" y2="165.50" stroke="#111" stroke-width="0.8" />
<line x1="300.00" y1="159.23" x2="302.00" y2="159.23" stroke="#111" stroke-width="0.8" />
<line x1="443.50" y1="159.23" x2="441.50" y2="159.23" stroke="#111" stroke-width="0.8" />
<line x1="300.00" y1="152.96" x2="302.00" y2="152.96" stroke="#111" stroke-width="0.8" />
<line x1="443.50" y1="152.96" x2="441.50" y2="152.96" stroke="#111" stroke-width="0.8" />
<line x1="300.00" y1="146.69" x2="302.00" y2="146.69" stroke="#111" stroke-width="0.8" />
<line x1="443.50" y1="146.69" x2="441.50" y2="146.69" stroke="#111" stroke-width="0.8" />
<line x1="300.00" y1="140.43" x2="302.00" y2="140.43" stroke="#111" stroke-width="0.8" />
<line x1="443.50" y1="140.43" x2="441.50" y2="140.43" stroke="#111" stroke-width="0.8" />
<line x1="300.00" y1="134.16" x2="303.00" y2="134.16" stroke="#111" stroke-width="0.8" />
<line x1="443.50" y1="134.16" x2="440.50" y2="134.16" stroke="#111" stroke-width="0.8" />
<line x1="300.00" y1="127.89" x2="302.00" y2="127.89" stroke="#111" stroke-width="0.8" />
<line x1="443.50" y1="127.89" x2="441.50" y2="127.89" stroke="#111" stroke-width="0.8" />
<line x1="300.00" y1="121.62" x2="302.00" y2="121.62" stroke="#111" stroke-width="0.8" />
<line x1="443.50" y1="121.62" x2="441.50" y2="121.62" stroke="#111" stroke-width="0.8" />
<line x1="300.00" y1="115.35" x2="302.00" y2="115.35" stroke="#111" stroke-width="0.8" />
<line x1="443.50" y1="115.35" x2="441.50" y2="115.35" stroke="#111" stroke-width="0.8" />
<line x1="300.00" y1="109.08" x2="302.00" y2="109.08" stroke="#111" stroke-width="0.8" />
<line x1="443.50" y1="109.08" x2="441.50" y2="109.08" stroke="#111" stroke-width="0.8" />
<line x1="300.00" y1="102.81" x2="303.00" y2="102.81" stroke="#111" stroke-width="0.8" />
<line x1="443.50" y1="102.81" x2="440.50" y2="102.81" stroke="#111" stroke-width="0.8" />
<line x1="300.00" y1="96.54" x2="302.00" y2="96.54" stroke="#111" stroke-width="0.8" />
<line x1="443.50" y1="96.54" x2="441.50" y2="96.54" stroke="#111" stroke-width="0.8" />
<line x1="300.00" y1="90.28" x2="302.00" y2="90.28" stroke="#111" stroke-width="0.8" />
<line x1="443.50" y1="90.28" x2="441.50" y2="90.28" stroke="#111" stroke-width="0.8" />
<line x1="300.00" y1="84.01" x2="302.00" y2="84.01" stroke="#111" stroke-width="0.8" />
<line x1="443.50" y1="84.01" x2="441.50" y2="84.01" stroke="#111" stroke-width="0.8" />
<line x1="300.00" y1="77.74" x2="302.00" y2="77.74" stroke="#111" stroke-width="0.8" />
<line x1="443.50" y1="77.74" x2="441.50" y2="77.74" stroke="#111" stroke-width="0.8" />
<line x1="300.00" y1="71.47" x2="303.00" y2="71.47" stroke="#111" stroke-width="0.8" />
<line x1="443.50" y1="71.47" x2="440.50" y2="71.47" stroke="#111" stroke-width="0.8" />
<line x1="300.00" y1="65.20" x2="302.00" y2="65.20" stroke="#111" stroke-width="0.8" />
<line x1="443.50" y1="65.20" x2="441.50" y2="65.20" stroke="#111" stroke-width="0.8" />
<rect x="308.55" y="157.22" width="3.4" height="3.4" fill="none" stroke="#000" stroke-width="0.85"/>
<rect x="310.60" y="155.75" width="3.4" height="3.4" fill="none" stroke="#000" stroke-width="0.85"/>
<rect x="318.80" y="149.88" width="3.4" height="3.4" fill="none" stroke="#000" stroke-width="0.85"/>
<rect x="329.05" y="142.55" width="3.4" height="3.4" fill="none" stroke="#000" stroke-width="0.85"/>
<rect x="339.30" y="135.21" width="3.4" height="3.4" fill="none" stroke="#000" stroke-width="0.85"/>
<rect x="343.81" y="132.28" width="3.4" height="3.4" fill="none" stroke="#000" stroke-width="0.85"/>
<rect x="349.55" y="127.88" width="3.4" height="3.4" fill="none" stroke="#000" stroke-width="0.85"/>
<rect x="359.80" y="120.55" width="3.4" height="3.4" fill="none" stroke="#000" stroke-width="0.85"/>
<rect x="370.05" y="113.21" width="3.4" height="3.4" fill="none" stroke="#000" stroke-width="0.85"/>
<rect x="380.30" y="105.88" width="3.4" height="3.4" fill="none" stroke="#000" stroke-width="0.85"/>
<rect x="390.55" y="98.54" width="3.4" height="3.4" fill="none" stroke="#000" stroke-width="0.85"/>
<rect x="400.80" y="91.21" width="3.4" height="3.4" fill="none" stroke="#000" stroke-width="0.85"/>
<rect x="411.05" y="83.87" width="3.4" height="3.4" fill="none" stroke="#000" stroke-width="0.85"/>
<rect x="420.07" y="76.66" width="3.4" height="3.4" fill="none" stroke="#000" stroke-width="0.85"/>
<rect x="421.50" y="76.16" width="3.4" height="3.4" fill="none" stroke="#000" stroke-width="0.85"/>
<rect x="430.73" y="69.14" width="3.4" height="3.4" fill="none" stroke="#000" stroke-width="0.85"/>
<rect x="433.60" y="67.76" width="3.4" height="3.4" fill="none" stroke="#000" stroke-width="0.85"/>
<text x="120.40" y="56.60" text-anchor="middle" font-size="10.7" >(a)</text>
<text x="371.50" y="57.60" text-anchor="middle" font-size="10.7" >(b)</text>
<text x="27.00" y="91.30" text-anchor="end" font-size="10.3" >450</text>
<text x="27.00" y="113.90" text-anchor="end" font-size="10.3" >300</text>
<text x="27.00" y="136.30" text-anchor="end" font-size="10.3" >150</text>
<text x="27.00" y="158.20" text-anchor="end" font-size="10.3" >0</text>
<text transform="translate(8.3,122) rotate(-90)" text-anchor="middle" font-size="10.7">Counts</text>
<text x="23.60" y="166.30" text-anchor="middle" font-size="10.4" >100</text>
<text x="54.30" y="169.10" text-anchor="middle" font-size="10.4" >50</text>
<text x="86.30" y="172.00" text-anchor="middle" font-size="10.4" >0</text>
<text x="113.50" y="174.30" text-anchor="middle" font-size="10.4" >-50</text>
<text x="138.60" y="177.10" text-anchor="middle" font-size="10.4" >-100</text>
<text x="154.20" y="176.70" text-anchor="middle" font-size="10.7" >0</text>
<text x="170.60" y="167.30" text-anchor="middle" font-size="10.7" >20</text>
<text x="182.90" y="158.70" text-anchor="middle" font-size="10.7" >40</text>
<text x="196.60" y="150.10" text-anchor="middle" font-size="10.7" >60</text>
<text x="87.20" y="184.30" text-anchor="middle" font-size="10.7" >Variation in number</text>
<text x="87.00" y="199.60" text-anchor="middle" font-size="10.7" >of e<tspan dy="-4.6" font-size="7.5">-</tspan><tspan dy="4.6">-h</tspan><tspan dy="-4.6" font-size="8">+</tspan><tspan dy="4.6" dx="0.8"> pairs created</tspan></text>
<text x="205.10" y="178.30" text-anchor="middle" font-size="10.6" >Fast electron</text>
<text x="205.30" y="190.00" text-anchor="middle" font-size="10.45" >energy, <tspan font-style="italic">E</tspan>′ (keV)</text>
<text x="300.00" y="181.40" text-anchor="middle" font-size="10.7" >0</text>
<text x="320.50" y="181.40" text-anchor="middle" font-size="10.7" >10</text>
<text x="341.00" y="181.40" text-anchor="middle" font-size="10.7" >20</text>
<text x="361.50" y="181.40" text-anchor="middle" font-size="10.7" >30</text>
<text x="382.00" y="181.40" text-anchor="middle" font-size="10.7" >40</text>
<text x="402.50" y="181.40" text-anchor="middle" font-size="10.7" >50</text>
<text x="423.00" y="181.40" text-anchor="middle" font-size="10.7" >60</text>
<text x="443.50" y="181.40" text-anchor="middle" font-size="10.7" >70</text>
<text x="291.60" y="168.50" text-anchor="end" font-size="10.2" >0</text>
<text x="291.60" y="137.16" text-anchor="end" font-size="10.2" >5</text>
<text x="291.60" y="105.81" text-anchor="end" font-size="10.2" >10</text>
<text x="291.60" y="74.47" text-anchor="end" font-size="10.2" >15</text>
<text x="369.90" y="196.60" text-anchor="middle" font-size="10.45" >Fast electron energy, <tspan font-style="italic">E</tspan>′ (keV)</text>
<text x="288.60" y="61.00" text-anchor="middle" font-size="10.7" >(× 10<tspan dy="-3.5" font-size="7">3</tspan><tspan dy="3.5">)</tspan></text>
<text transform="translate(269.3,115.8) rotate(-90)" text-anchor="middle" font-size="10.8">Mean no. of e<tspan dy="-3.5" font-size="7">-</tspan><tspan dy="3.5">-h</tspan><tspan dy="-3.5" font-size="7">+</tspan><tspan dy="3.5"> pairs,</tspan><tspan font-style="italic" dx="0.8">N̄</tspan></text>
</svg>
</body></html>
